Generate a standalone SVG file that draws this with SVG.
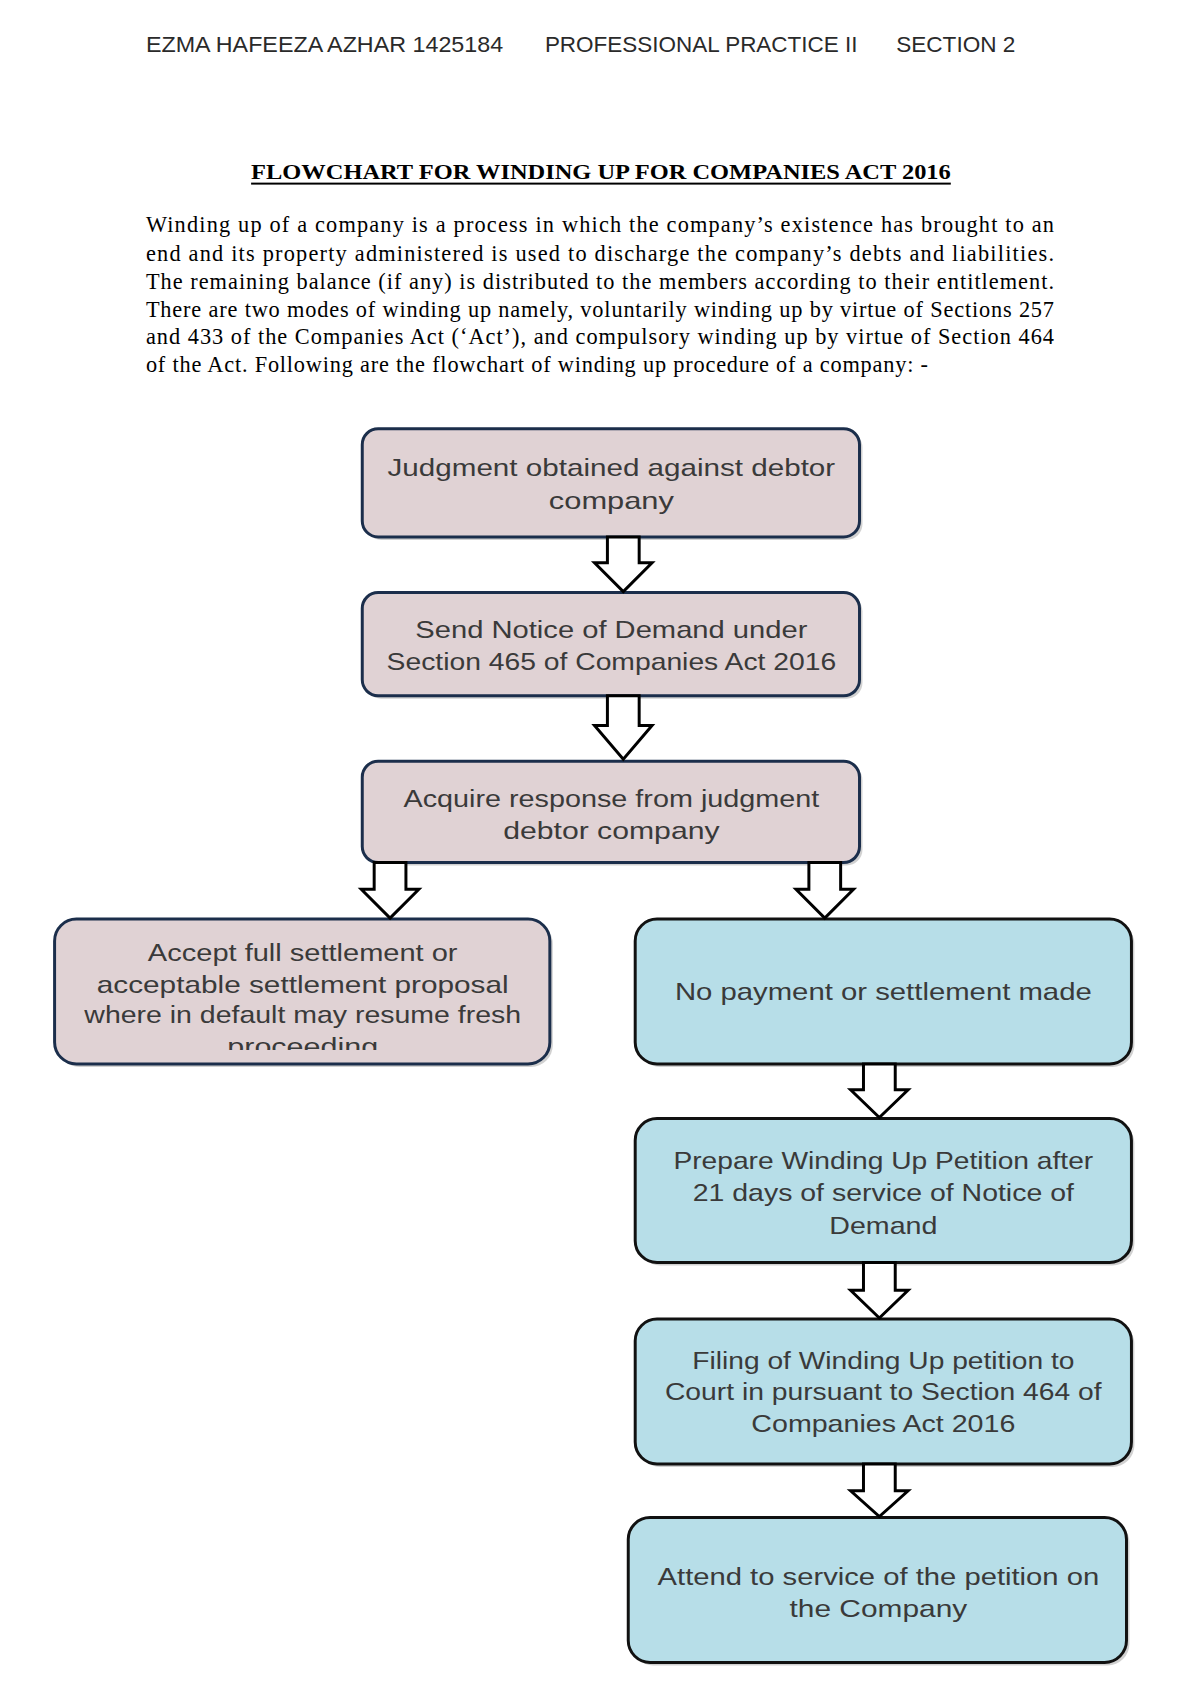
<svg xmlns="http://www.w3.org/2000/svg" width="1200" height="1698" viewBox="0 0 1200 1698">
<style>
.hdr{font-family:"Liberation Sans",Arial,sans-serif;font-size:23px;fill:#2a2a2a}
.ttl{font-family:"Liberation Serif","Times New Roman",serif;font-size:22px;font-weight:bold;fill:#000}
.par{font-family:"Liberation Serif","Times New Roman",serif;font-size:22.5px;fill:#000}
.nt{font-family:"Liberation Sans",Arial,sans-serif;font-size:25px;fill:#3a3a3a;text-anchor:middle}
.pink{fill:#E0D2D4;stroke:#1B2E4B;stroke-width:3}
.blue{fill:#B7DEE8;stroke:#111;stroke-width:3}
.shd{fill:#000;opacity:0.18}
.arr{fill:#fff;stroke:#000;stroke-width:3;stroke-linejoin:miter}
</style>
<defs>
<clipPath id="clip4"><rect x="55" y="926" width="499" height="132"/></clipPath>
</defs>
<rect width="1200" height="1698" fill="#fff"/>
<g transform="scale(0.9925)">
<g id="header">
<text class="hdr" x="147" y="52" textLength="360" lengthAdjust="spacingAndGlyphs">EZMA HAFEEZA AZHAR 1425184</text>
<text class="hdr" x="549" y="52" textLength="315" lengthAdjust="spacingAndGlyphs">PROFESSIONAL PRACTICE II</text>
<text class="hdr" x="903" y="52" textLength="120" lengthAdjust="spacingAndGlyphs">SECTION 2</text>
</g>
<g id="title">
<text class="ttl" x="253" y="180" textLength="705" lengthAdjust="spacingAndGlyphs">FLOWCHART FOR WINDING UP FOR COMPANIES ACT 2016</text>
<rect x="253" y="184" width="705" height="2" fill="#000"/>
</g>
<g id="intro">
<text class="par" x="147" y="234" textLength="915" lengthAdjust="spacing">Winding up of a company is a process in which the company’s existence has brought to an</text>
<text class="par" x="147" y="263" textLength="915" lengthAdjust="spacing">end and its property administered is used to discharge the company’s debts and liabilities.</text>
<text class="par" x="147" y="291" textLength="915" lengthAdjust="spacing">The remaining balance (if any) is distributed to the members according to their entitlement.</text>
<text class="par" x="147" y="319" textLength="915" lengthAdjust="spacing">There are two modes of winding up namely, voluntarily winding up by virtue of Sections 257</text>
<text class="par" x="147" y="347" textLength="915" lengthAdjust="spacing">and 433 of the Companies Act (‘Act’), and compulsory winding up by virtue of Section 464</text>
<text class="par" x="147" y="375" textLength="788" lengthAdjust="spacing">of the Act. Following are the flowchart of winding up procedure of a company: -</text>
</g>

<g id="n1">
<rect class="shd" x="368" y="435" width="501" height="109" rx="16"/>
<rect class="pink" x="365" y="432" width="501" height="109" rx="16"/>
<text class="nt" x="616" y="480" textLength="451" lengthAdjust="spacingAndGlyphs">Judgment obtained against debtor</text>
<text class="nt" x="616" y="513" textLength="126" lengthAdjust="spacingAndGlyphs">company</text>
</g>
<g id="n2">
<rect class="shd" x="368" y="600" width="501" height="104" rx="16"/>
<rect class="pink" x="365" y="597" width="501" height="104" rx="16"/>
<text class="nt" x="616" y="643" textLength="395" lengthAdjust="spacingAndGlyphs">Send Notice of Demand under</text>
<text class="nt" x="616" y="675" textLength="453" lengthAdjust="spacingAndGlyphs">Section 465 of Companies Act 2016</text>
</g>
<g id="n3">
<rect class="shd" x="368" y="770" width="501" height="102" rx="16"/>
<rect class="pink" x="365" y="767" width="501" height="102" rx="16"/>
<text class="nt" x="616" y="813" textLength="419" lengthAdjust="spacingAndGlyphs">Acquire response from judgment</text>
<text class="nt" x="616" y="845" textLength="218" lengthAdjust="spacingAndGlyphs">debtor company</text>
</g>
<g id="n4">
<rect class="shd" x="58" y="929" width="499" height="146" rx="22"/>
<rect class="pink" x="55" y="926" width="499" height="146" rx="22"/>
<g clip-path="url(#clip4)">
<text class="nt" x="305" y="968" textLength="312" lengthAdjust="spacingAndGlyphs">Accept full settlement or</text>
<text class="nt" x="305" y="1000" textLength="415" lengthAdjust="spacingAndGlyphs">acceptable settlement proposal</text>
<text class="nt" x="305" y="1031" textLength="440" lengthAdjust="spacingAndGlyphs">where in default may resume fresh</text>
<text class="nt" x="305" y="1063" textLength="152" lengthAdjust="spacingAndGlyphs">proceeding</text>
</g>
</g>
<g id="n5">
<rect class="shd" x="643" y="929" width="500" height="146" rx="22"/>
<rect class="blue" x="640" y="926" width="500" height="146" rx="22"/>
<text class="nt" x="890" y="1008" textLength="420" lengthAdjust="spacingAndGlyphs">No payment or settlement made</text>
</g>
<g id="n6">
<rect class="shd" x="643" y="1130" width="500" height="145" rx="22"/>
<rect class="blue" x="640" y="1127" width="500" height="145" rx="22"/>
<text class="nt" x="890" y="1178" textLength="423" lengthAdjust="spacingAndGlyphs">Prepare Winding Up Petition after</text>
<text class="nt" x="890" y="1210" textLength="384" lengthAdjust="spacingAndGlyphs">21 days of service of Notice of</text>
<text class="nt" x="890" y="1243" textLength="109" lengthAdjust="spacingAndGlyphs">Demand</text>
</g>
<g id="n7">
<rect class="shd" x="643" y="1332" width="500" height="146" rx="22"/>
<rect class="blue" x="640" y="1329" width="500" height="146" rx="22"/>
<text class="nt" x="890" y="1379" textLength="385" lengthAdjust="spacingAndGlyphs">Filing of Winding Up petition to</text>
<text class="nt" x="890" y="1411" textLength="440" lengthAdjust="spacingAndGlyphs">Court in pursuant to Section 464 of</text>
<text class="nt" x="890" y="1443" textLength="266" lengthAdjust="spacingAndGlyphs">Companies Act 2016</text>
</g>
<g id="n8">
<rect class="shd" x="636" y="1532" width="502" height="146" rx="22"/>
<rect class="blue" x="633" y="1529" width="502" height="146" rx="22"/>
<text class="nt" x="885" y="1597" textLength="445" lengthAdjust="spacingAndGlyphs">Attend to service of the petition on</text>
<text class="nt" x="885" y="1629" textLength="179" lengthAdjust="spacingAndGlyphs">the Company</text>
</g>

<g id="connectors">
<path class="arr" d="M612,541 L644,541 L644,567 L657,567 L628,596 L599,567 L612,567 Z"/>
<path class="arr" d="M612,701 L644,701 L644,731 L657,731 L628,765 L599,731 L612,731 Z"/>
<path class="arr" d="M377,869 L409,869 L409,896 L422,896 L393,925 L364,896 L377,896 Z"/>
<path class="arr" d="M815,869 L847,869 L847,896 L860,896 L831,925 L802,896 L815,896 Z"/>
<path class="arr" d="M870,1072 L902,1072 L902,1098 L915,1098 L886,1126 L857,1098 L870,1098 Z"/>
<path class="arr" d="M870,1272 L902,1272 L902,1300 L915,1300 L886,1328 L857,1300 L870,1300 Z"/>
<path class="arr" d="M870,1475 L902,1475 L902,1502 L915,1502 L886,1528 L857,1502 L870,1502 Z"/>
</g>
</g>
</svg>
